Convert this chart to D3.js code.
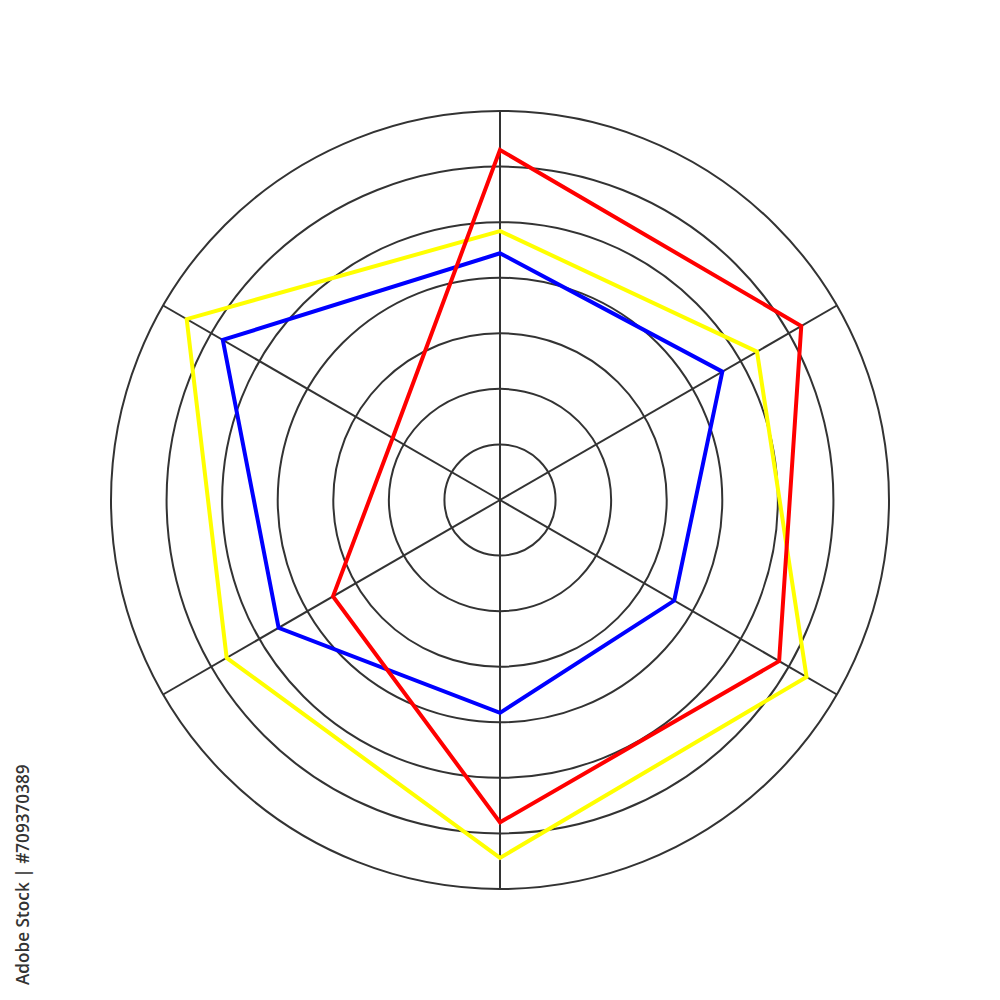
<!DOCTYPE html>
<html>
<head>
<meta charset="utf-8">
<script src="https://cdn.jsdelivr.net/npm/d3@7"></script>
<style>
  body { margin: 0; background: #fff; }
</style>
</head>
<body>
<svg></svg>
<script>
const width = 1000;
const height = 1000;

// axes (clockwise from the top) and ring levels
const axes = ['A', 'B', 'C', 'D', 'E', 'F'];
const levels = [1, 2, 3, 4, 5, 6, 7];

// series values (ring units)
const redValues = [6.3, 6.26, 5.8, 5.8, 3.47, 2.23];
const blueValues = [4.44, 4.62, 3.62, 3.83, 4.6, 5.76];
const yellowValues = [4.84, 5.34, 6.37, 6.44, 5.68, 6.51];

const seriesColors = ['#ff0000', '#0000ff', '#ffff00'];

const svg = d3.select('svg')
    .attr('width', width)
    .attr('height', height);

const g = svg.append('g')
    .attr('transform', 'translate(500,500)');

const r = d3.scaleLinear().domain([0, 7]).range([0, 389]);
const angle = d3.scaleLinear().domain([0, axes.length]).range([0, 2 * Math.PI]);

// rings
g.selectAll('circle.ring')
    .data(levels)
    .enter().append('circle')
    .attr('class', 'ring')
    .attr('r', d => r(d))
    .attr('fill', 'none')
    .attr('stroke', '#333')
    .attr('stroke-width', 2);

// spokes
g.selectAll('line.spoke')
    .data(axes)
    .enter().append('line')
    .attr('class', 'spoke')
    .attr('x1', 0)
    .attr('y1', 0)
    .attr('x2', (d, i) => r(7) * Math.sin(angle(i)))
    .attr('y2', (d, i) => -r(7) * Math.cos(angle(i)))
    .attr('stroke', '#333')
    .attr('stroke-width', 2);

const radar = d3.lineRadial()
    .angle((d, i) => angle(i))
    .radius(d => r(d))
    .curve(d3.curveLinearClosed);

// draw yellow first, then blue, red on top
const series = [
    {values: yellowValues, color: seriesColors[2]},
    {values: blueValues, color: seriesColors[1]},
    {values: redValues, color: seriesColors[0]}
];

g.selectAll('path.series')
    .data(series)
    .enter().append('path')
    .attr('class', 'series')
    .attr('d', d => radar(d.values))
    .attr('fill', 'none')
    .attr('stroke', d => d.color)
    .attr('stroke-width', 4)
    .attr('stroke-linejoin', 'miter');

// stock id along the left edge
svg.append('text')
    .attr('transform', 'translate(29,985) rotate(-90)')
    .attr('font-family', '"Open Sans", sans-serif')
    .attr('font-size', 17.2)
    .attr('font-weight', 600)
    .attr('fill', '#333')
    .text('Adobe Stock | #709370389');
</script>
</body>
</html>
